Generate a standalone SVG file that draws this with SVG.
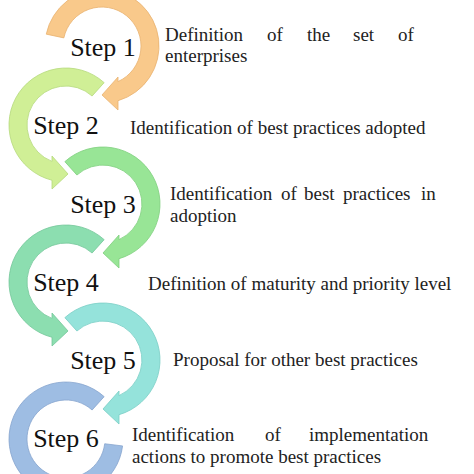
<svg xmlns="http://www.w3.org/2000/svg" width="474" height="474" viewBox="0 0 474 474">
<style>
.arc{stroke-width:0.8;stroke-linejoin:round}
.lbl{font-family:"Liberation Serif","Times New Roman",serif;font-size:26px;fill:#111;text-anchor:middle}
.desc{font-family:"Liberation Serif","Times New Roman",serif;font-size:19px;fill:#222}
</style>
<rect width="474" height="474" fill="#fff"/>
<g id="connectors">
<path id="arc1" class="arc" transform="translate(102,46)" fill="#F9C98B" stroke="#E9B371" d="M-55.75,-11.85 A57,57 0 1 1 16,54.7 L16,64 L0,49 L16,31 L16,35.6 A39,39 0 1 0 -38.15,-8.11 Z"/>
<path id="arc2" class="arc" transform="translate(66,125)" fill="#D0EF96" stroke="#B5D97C" d="M38.14,-42.36 A57,57 0 1 0 -14,55.25 L-14,64 L2,49 L-14,31 L-14,36.4 A39,39 0 1 1 26.1,-28.98 Z"/>
<path id="arc3" class="arc" transform="translate(103,204)" fill="#98E596" stroke="#7FCF7E" d="M-38.14,-42.36 A57,57 0 1 1 16,54.7 L16,64 L0,49 L16,31 L16,35.6 A39,39 0 1 0 -26.1,-28.98 Z"/>
<path id="arc4" class="arc" transform="translate(66,282)" fill="#8CDEB0" stroke="#73C799" d="M38.14,-42.36 A57,57 0 1 0 -14,55.25 L-14,64 L2,49 L-14,31 L-14,36.4 A39,39 0 1 1 26.1,-28.98 Z"/>
<path id="arc5" class="arc" transform="translate(103,360)" fill="#95E3DB" stroke="#7ACEC5" d="M-38.14,-42.36 A57,57 0 1 1 16,54.7 L16,64 L0,49 L16,31 L16,35.6 A39,39 0 1 0 -26.1,-28.98 Z"/>
<path id="arc6" class="arc" transform="translate(66,439)" fill="#9EBDE3" stroke="#86A5CE" d="M38.14,-42.36 A57,57 0 1 0 56.57,6.95 L38.71,4.75 A39,39 0 1 1 26.1,-28.98 Z"/>
</g>
<g id="step1">
<text class="lbl" x="103" y="56">Step 1</text>
<text class="desc" y="41"><tspan x="165">Definition</tspan><tspan x="267">of</tspan><tspan x="307">the</tspan><tspan x="353">set</tspan><tspan x="398">of</tspan></text>
<text class="desc" x="165" y="62">enterprises</text>
</g>
<g id="step2">
<text class="lbl" x="66" y="134">Step 2</text>
<text class="desc" x="130" y="134">Identification of best practices adopted</text>
</g>
<g id="step3">
<text class="lbl" x="103" y="213">Step 3</text>
<text class="desc" y="200"><tspan x="170">Identification</tspan><tspan x="281">of</tspan><tspan x="304">best</tspan><tspan x="343">practices</tspan><tspan x="421">in</tspan></text>
<text class="desc" x="170" y="222">adoption</text>
</g>
<g id="step4">
<text class="lbl" x="66" y="291">Step 4</text>
<text class="desc" x="148" y="290">Definition of maturity and priority level</text>
</g>
<g id="step5">
<text class="lbl" x="103" y="369">Step 5</text>
<text class="desc" x="173" y="366">Proposal for other best practices</text>
</g>
<g id="step6">
<text class="lbl" x="66" y="447">Step 6</text>
<text class="desc" y="441"><tspan x="132">Identification</tspan><tspan x="265">of</tspan><tspan x="309">implementation</tspan></text>
<text class="desc" x="132" y="463">actions to promote best practices</text>
</g>
</svg>
